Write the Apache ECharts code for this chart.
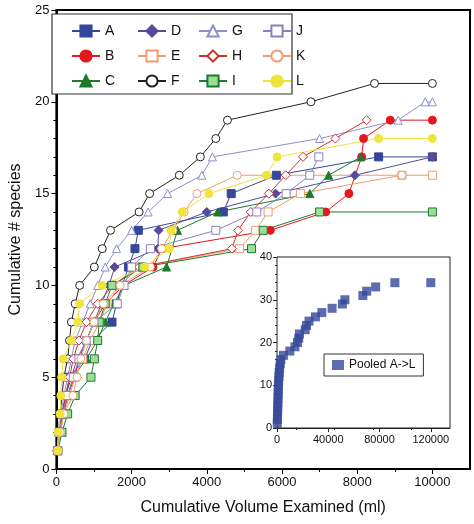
<!DOCTYPE html>
<html>
<head>
<meta charset="utf-8">
<script src="https://cdn.jsdelivr.net/npm/echarts@6/dist/echarts.min.js"></script>
<style>html,body{margin:0;padding:0;background:#fff}#main{width:474px;height:524px}</style>
</head>
<body>
<div id="main"></div>
<script>
// 各样点累计物种数 [体积ml, 物种数]
var seriesA = [[30,1],[80,2],[150,3],[250,4],[350,5],[750,6],[960,7],[1480,8],[1600,9],[1750,10],[1920,11],[2090,12],[2180,13],[4440,14],[4650,15],[5850,16],[8570,17],[10000,17]];
var seriesB = [[40,1],[100,2],[200,3],[300,4],[490,5],[600,6],[800,7],[1000,8],[1300,9],[1790,10],[2570,11],[2810,12],[5690,13],[7160,14],[7780,15],[8120,17],[8170,18],[8880,19],[10000,19]];
var seriesC = [[30,1],[80,2],[150,3],[300,4],[450,5],[800,6],[1090,7],[1300,8],[1530,9],[1800,10],[2930,11],[3220,13],[4290,14],[6740,15],[7240,16],[8100,17]];
var seriesD = [[30,1],[80,2],[150,3],[250,4],[400,5],[550,6],[800,7],[1000,8],[1200,9],[1400,10],[1550,11],[2700,12],[2720,13],[4000,14],[5830,15],[7940,16],[10000,17]];
var seriesE = [[40,1],[100,2],[200,3],[350,4],[500,5],[700,6],[900,7],[1150,8],[1350,9],[1700,10],[2200,11],[4870,12],[5300,13],[5630,14],[6490,15],[9190,16],[10000,16]];
var seriesF = [[20,1],[50,2],[100,3],[150,4],[200,5],[300,6],[350,7],[400,8],[500,9],[620,10],[1010,11],[1220,12],[1440,13],[2200,14],[2480,15],[3270,16],[3830,17],[4240,18],[4550,19],[6770,20],[8460,21],[10000,21]];
var seriesG = [[20,1],[60,2],[120,3],[200,4],[300,5],[400,6],[500,7],[700,8],[900,9],[1100,10],[1300,11],[1600,12],[2000,13],[2440,14],[2960,15],[3870,16],[4150,17],[7000,18],[9090,19],[9810,20],[10000,20]];
var seriesH = [[30,1],[80,2],[150,3],[250,4],[350,5],[450,6],[600,7],[800,8],[1100,9],[1500,10],[2200,11],[4670,12],[4830,13],[5170,14],[5650,15],[6100,16],[6560,17],[7420,18],[8250,19]];
var seriesI = [[40,1],[150,2],[300,3],[500,4],[920,5],[1010,6],[1100,7],[1140,8],[1300,9],[1480,10],[2300,11],[5190,12],[5500,13],[7000,14],[10000,14]];
var seriesJ = [[30,1],[80,2],[150,3],[300,4],[450,5],[600,6],[800,7],[1000,8],[1620,9],[1800,10],[2000,11],[2500,12],[4240,13],[5330,14],[6110,15],[6740,16],[6980,17]];
var seriesK = [[40,1],[100,2],[200,3],[440,4],[550,5],[650,6],[800,7],[1000,8],[1250,9],[1700,10],[2500,11],[2800,12],[3100,13],[3400,14],[3740,15],[4810,16],[9190,16]];
var seriesL = [[35,1],[50,2],[100,3],[120,4],[140,5],[180,6],[400,7],[570,8],[620,9],[1220,10],[2350,11],[3000,12],[3050,13],[3350,14],[4060,15],[5590,16],[5870,17],[8570,18],[10000,18]];
// 合并样点
var pooled = [[200,1],[300,2],[400,3],[500,4],[600,5],[700,6],[800,7],[900,8],[1000,9],[1100,10],[1300,11],[1500,12],[1700,13],[2000,14],[2500,15],[3000,16],[5000,17],[10000,18],[14000,19],[16000,20],[17000,21],[17500,22],[22000,23],[23000,24],[25000,25],[30000,26],[35000,27],[43000,28],[51000,29],[53000,30],[67000,31],[70000,32],[77000,33],[92000,34],[120000,34]];

var mainTicks = [0, 2000, 4000, 6000, 8000, 10000];
var insetTicks = [0, 40000, 80000, 120000];

var styles = [
    ['A', seriesA, 'rect', '#34479a', true],
    ['B', seriesB, 'circle', '#e5161c', true],
    ['C', seriesC, 'triangle', '#1c7a2c', true],
    ['D', seriesD, 'diamond', '#574a9c', true],
    ['E', seriesE, 'rect', '#ef9a68', false],
    ['F', seriesF, 'circle', '#222222', false],
    ['G', seriesG, 'triangle', '#8c90cc', false],
    ['H', seriesH, 'diamond', '#d2302e', false],
    ['I', seriesI, 'rect', '#1c7a2c', 'I'],
    ['J', seriesJ, 'rect', '#8a80c0', false],
    ['K', seriesK, 'circle', '#eb9e72', false],
    ['L', seriesL, 'circle', '#efe43a', true]
];

var chart = echarts.init(document.getElementById('main'));

var series = styles.map(function (s) {
    var fill = s[4] === true ? s[3] : (s[4] === 'I' ? '#9fdc9a' : '#fff');
    return {
        name: s[0], type: 'line', data: s[1], xAxisIndex: 0, yAxisIndex: 0,
        symbol: s[2], symbolSize: s[2] === 'diamond' ? 9 : 8, showAllSymbol: true,
        clip: false,
        lineStyle: {color: s[3], width: 1},
        itemStyle: {color: fill, borderColor: s[3], borderWidth: 1},
        z: 3
    };
});
series.push({
    name: 'Pooled A->L', type: 'scatter', data: pooled, xAxisIndex: 1, yAxisIndex: 1,
    symbol: 'rect', symbolSize: 9, itemStyle: {color: '#34479a'}, z: 10
});

var font = 'Liberation Sans';
function legendCol(names, left) {
    return {
        data: names, orient: 'vertical', left: left, top: 19, itemGap: 11, z: 12,
        itemWidth: 28, itemHeight: 14, textStyle: {fontFamily: font, fontSize: 14, color: '#111'}
    };
}
function plain(v) { return String(v); }

var option = {
    animation: false,
    backgroundColor: '#fff',
    graphic: [{
        type: 'rect', shape: {x: 52, y: 14, width: 240, height: 80},
        style: {fill: '#fff', stroke: '#333', lineWidth: 1.2}, z: 6
    }],
    legend: [
        legendCol(['A', 'B', 'C'], 66),
        legendCol(['D', 'E', 'F'], 132),
        legendCol(['G', 'H', 'I'], 193),
        legendCol(['J', 'K', 'L'], 257),
        {
            data: ['Pooled A->L'], left: 324, top: 354, itemWidth: 12, itemHeight: 10, z: 12,
            borderColor: '#333', borderWidth: 1, padding: [5, 8, 5, 8],
            backgroundColor: '#fff',
            textStyle: {fontFamily: font, fontSize: 12, color: '#111'}
        }
    ],
    grid: [
        {left: 48, right: 4, top: 10, bottom: 55, show: true, borderColor: '#000', borderWidth: 2, backgroundColor: '#fff', z: 0},
        {left: 277, right: 24, top: 257, bottom: 96, show: true, borderColor: '#222', borderWidth: 1, backgroundColor: '#fff', z: 8}
    ],
    xAxis: [{
        type: 'value', gridIndex: 0, min: 0, max: 11000,
        name: 'Cumulative Volume Examined (ml)', nameLocation: 'middle', nameGap: 31,
        nameTextStyle: {fontFamily: font, fontSize: 16, color: '#111'},
        axisLine: {lineStyle: {color: '#000', width: 2}},
        axisTick: {customValues: mainTicks, length: 5, lineStyle: {color: '#000'}},
        axisLabel: {customValues: mainTicks, formatter: plain, fontFamily: font, fontSize: 13, color: '#111', margin: 7},
        minorTick: {show: true, splitNumber: 2, length: 3},
        splitLine: {show: false}
    }, {
        type: 'value', gridIndex: 1, min: 0, max: 135000,
        axisLine: {lineStyle: {color: '#222'}},
        axisTick: {customValues: insetTicks, length: 4, lineStyle: {color: '#222'}},
        axisLabel: {customValues: insetTicks, formatter: plain, fontFamily: font, fontSize: 11, color: '#111', margin: 6},
        minorTick: {show: true, splitNumber: 2, length: 2},
        splitLine: {show: false}
    }],
    yAxis: [{
        type: 'value', gridIndex: 0, min: 0, max: 25, interval: 5,
        name: 'Cumulative # species', nameLocation: 'middle', nameGap: 26,
        nameTextStyle: {fontFamily: font, fontSize: 16, color: '#111'},
        axisLine: {show: true, lineStyle: {color: '#000', width: 2}},
        axisTick: {show: true, length: 5, lineStyle: {color: '#000'}},
        axisLabel: {fontFamily: font, fontSize: 13, color: '#111', margin: 7},
        minorTick: {show: true, splitNumber: 5, length: 3},
        splitLine: {show: false}
    }, {
        type: 'value', gridIndex: 1, min: 0, max: 40, interval: 10,
        axisLine: {show: true, lineStyle: {color: '#222'}},
        axisTick: {show: true, length: 4, lineStyle: {color: '#222'}},
        axisLabel: {fontFamily: font, fontSize: 11, color: '#111', margin: 5},
        minorTick: {show: true, splitNumber: 5, length: 2},
        splitLine: {show: false}
    }],
    series: series
};

chart.setOption(option);
</script>
</body>
</html>
